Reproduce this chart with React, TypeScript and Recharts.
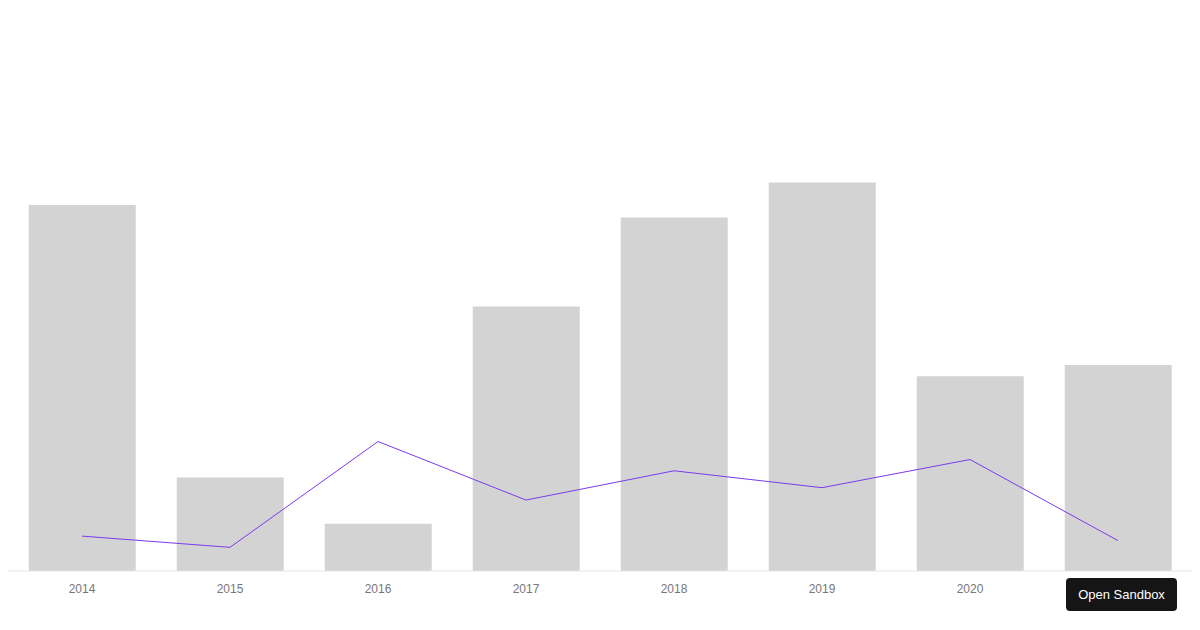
import React from 'react';
import { ComposedChart, Bar, Line, XAxis, YAxis } from 'recharts';

const years = ['2014', '2015', '2016', '2017', '2018', '2019', '2020', '2021'];
const barValues = [325, 83, 42, 235, 314, 345, 173, 183];
const lineValues = [31, 21, 115, 63, 89, 74, 99, 27];

const data = years.map((year, i) => ({
  year,
  total: barValues[i],
  rate: lineValues[i],
}));

export default function App() {
  return (
    <div style={{ position: 'relative', width: 1184, height: 622, fontFamily: 'Arial, "Liberation Sans", sans-serif' }}>
      <ComposedChart
        width={1184}
        height={622}
        data={data}
        margin={{ top: 0, right: 0, bottom: 29, left: 0 }}
        barCategoryGap="14%"
      >
        <XAxis
          dataKey="year"
          tickLine={false}
          tickMargin={7}
          axisLine={{ stroke: '#e5e5e5' }}
          tick={{ fontSize: 12, fill: '#777' }}
        />
        <YAxis hide domain={[0, 500]} />
        <Bar dataKey="total" fill="#d3d3d3" isAnimationActive={false} />
        <Line
          type="linear"
          dataKey="rate"
          stroke="#7c3aed"
          strokeWidth={1}
          dot={false}
          activeDot={false}
          isAnimationActive={false}
        />
      </ComposedChart>
      <div
        style={{
          position: 'absolute',
          left: 1058,
          top: 570,
          width: 111,
          height: 33,
          background: '#151515',
          color: '#fff',
          borderRadius: 4,
          fontSize: 13,
          display: 'flex',
          alignItems: 'center',
          justifyContent: 'center',
        }}
      >
        Open Sandbox
      </div>
    </div>
  );
}
